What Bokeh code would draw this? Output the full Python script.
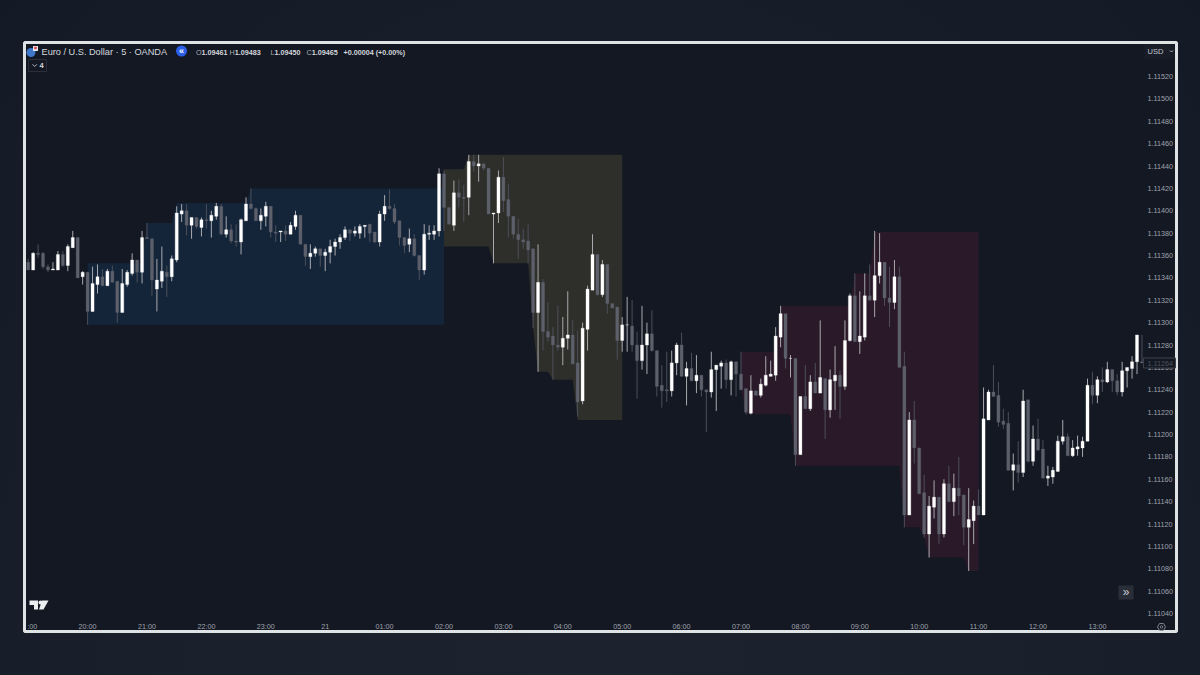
from bokeh.plotting import figure
from bokeh.embed import file_html
from bokeh.resources import INLINE
from bokeh.models import ColumnDataSource, Range1d, LinearAxis, FixedTicker, Label, NumeralTickFormatter

# Prices are stored as points (1e-5) above 1.10000, one entry per 5-minute bar.
BASE = 1.10
opens = [1354,1347,1362,1362,1350,1347,1347,1361,1351,1367,
 1376,1341,1345,1310,1334,1341,1333,1346,1337,1309,
 1334,1344,1356,1345,1376,1375,1330,1337,1345,1341,
 1356,1397,1400,1387,1394,1385,1392,1391,1395,1404,
 1379,1383,1373,1372,1391,1406,1402,1391,1395,1404,
 1381,1381,1382,1379,1386,1396,1370,1359,1362,
 1366,1360,1363,1368,1372,1376,1383,1380,1380,1386,
 1388,1381,1372,1397,1404,1402,1391,1376,1370,1375,
 1360,1347,1379,1379,1382,1433,1403,1387,1416,1412,
 1412,1444,1440,1442,1438,1397,1398,1430,1410,1395,
 1379,1374,1373,1366,1309,1336,1292,1288,1280,1278,
 1286,1289,1264,1230,1294,1329,1361,1325,1352,1317,
 1314,1284,1298,1297,1280,1266,1280,1290,1275,1244,
 1240,1239,1264,1280,1252,1259,1248,1253,1240,1238,
 1258,1261,1264,1249,1265,1254,1241,1219,1239,1235,
 1244,1252,1253,1287,1308,1268,1268,1182,1234,1223,
 1247,1237,1250,1222,1248,1253,1243,1284,1324,1283,
 1287,1324,1320,1342,1354,1322,1318,1341,1261,1128,
 1213,1188,1148,1111,1135,1144,1111,1156,1140,1152,
 1146,1117,1123,1136,1128,1213,1238,1235,1212,1210,
 1168,1173,1166,1231,1176,1196,1187,1161,1162,1167,
 1194,1198,1181,1187,1188,1194,1244,1235,1249,1247,
 1258,1248,1238,1257,1259,1265,1265]
closes = [1347,1362,1361,1350,1347,1348,1361,1351,1368,1376,
 1340,1345,1310,1335,1341,1333,1346,1336,1309,1335,
 1345,1356,1345,1376,1375,1338,1338,1346,1341,1357,
 1398,1400,1387,1394,1386,1392,1391,1396,1404,1379,
 1383,1373,1372,1392,1406,1402,1391,1396,1404,1381,
 1380,1382,1379,1387,1396,1370,1359,1362,1366,
 1360,1363,1368,1372,1376,1383,1380,1382,1386,1387,
 1380,1372,1397,1404,1402,1390,1376,1369,1375,1360,
 1347,1379,1380,1382,1433,1403,1388,1416,1412,1411,
 1444,1440,1442,1438,1397,1398,1430,1409,1395,1379,
 1374,1372,1365,1309,1336,1292,1287,1280,1278,1286,
 1289,1263,1229,1295,1330,1361,1325,1352,1317,1313,
 1284,1298,1298,1280,1266,1280,1290,1275,1243,1239,
 1239,1264,1280,1252,1259,1248,1253,1240,1238,1258,
 1262,1264,1249,1265,1254,1240,1220,1239,1235,1245,
 1253,1254,1288,1308,1268,1268,1182,1234,1223,1247,
 1237,1251,1222,1249,1253,1243,1284,1324,1283,1288,
 1324,1320,1342,1354,1322,1318,1341,1260,1128,1213,
 1188,1147,1111,1136,1144,1111,1156,1140,1152,1145,
 1117,1124,1136,1128,1214,1238,1234,1211,1209,1168,
 1173,1166,1230,1176,1196,1186,1161,1163,1168,1194,
 1198,1181,1188,1189,1194,1244,1235,1249,1247,1258,
 1248,1238,1257,1260,1265,1289,1264]
highs = [1357,1363,1370,1363,1352,1354,1364,1364,1370,1382,
 1376,1346,1345,1350,1352,1348,1348,1351,1337,1348,
 1347,1362,1356,1382,1389,1375,1357,1368,1351,1360,
 1404,1406,1406,1394,1394,1394,1406,1400,1407,1406,
 1395,1388,1388,1393,1412,1420,1403,1402,1408,1404,
 1387,1382,1387,1390,1400,1396,1370,1370,1368,
 1366,1366,1374,1375,1379,1386,1383,1386,1388,1387,
 1388,1381,1400,1414,1419,1406,1391,1376,1384,1379,
 1360,1388,1387,1387,1438,1436,1403,1427,1428,1423,
 1450,1450,1450,1442,1438,1398,1436,1448,1424,1395,
 1393,1384,1388,1366,1370,1339,1318,1296,1315,1305,
 1328,1302,1293,1300,1333,1379,1361,1356,1352,1317,
 1314,1305,1323,1320,1292,1315,1300,1311,1275,1262,
 1274,1275,1282,1291,1265,1273,1271,1253,1240,1274,
 1262,1266,1267,1266,1265,1274,1241,1253,1239,1250,
 1270,1266,1296,1315,1308,1271,1268,1234,1262,1253,
 1264,1302,1250,1258,1279,1257,1302,1326,1344,1328,
 1344,1352,1382,1380,1354,1350,1356,1350,1274,1220,
 1230,1188,1164,1145,1159,1144,1160,1172,1165,1180,
 1146,1152,1141,1151,1242,1240,1262,1247,1223,1220,
 1183,1194,1240,1231,1208,1214,1195,1172,1171,1199,
 1213,1201,1195,1199,1198,1250,1256,1252,1260,1265,
 1258,1254,1265,1260,1270,1289,1289]
lows = [1347,1347,1358,1348,1345,1347,1347,1350,1346,1367,
 1340,1334,1298,1310,1326,1333,1333,1336,1300,1309,
 1332,1342,1336,1335,1375,1324,1310,1331,1323,1337,
 1354,1390,1378,1375,1384,1377,1384,1376,1392,1379,
 1376,1371,1368,1361,1391,1401,1391,1383,1386,1376,
 1372,1372,1373,1379,1383,1370,1351,1348,1359,
 1350,1346,1353,1360,1366,1374,1373,1377,1375,1376,
 1372,1371,1368,1391,1401,1388,1369,1362,1363,1359,
 1338,1343,1374,1374,1377,1382,1388,1382,1403,1390,
 1396,1435,1426,1436,1397,1353,1389,1399,1376,1375,
 1357,1366,1353,1295,1256,1275,1283,1249,1275,1262,
 1276,1263,1216,1227,1275,1329,1324,1323,1308,1313,
 1267,1274,1274,1274,1232,1258,1254,1274,1234,1224,
 1229,1234,1253,1252,1226,1248,1237,1234,1202,1233,
 1221,1241,1241,1235,1234,1240,1218,1218,1235,1233,
 1243,1252,1248,1278,1259,1251,1172,1182,1223,1221,
 1237,1237,1196,1215,1222,1214,1240,1283,1283,1272,
 1284,1320,1305,1335,1315,1296,1312,1260,1117,1128,
 1174,1147,1108,1090,1125,1102,1108,1140,1127,1128,
 1101,1078,1102,1128,1128,1213,1234,1207,1205,1168,
 1150,1157,1162,1175,1172,1186,1161,1154,1156,1167,
 1191,1181,1180,1181,1180,1194,1227,1228,1238,1246,
 1238,1235,1234,1242,1250,1254,1264]
assert len(opens) == len(closes) == len(highs) == len(lows) == 226

blue_bars = [13,24,25,30,31,45,46,85]
blue_top = [1353,1353,1389,1389,1407,1407,1420,1420]
blue_bot = [1298]*8
olive_bars = [85,89,90,94,95,101,102,103,104,106,107,111,112,121]
olive_top = [1437,1437]+[1450]*12
olive_bot = [1368,1368,1368,1368,1353,1353,1353,1295,1256,1256,1249,1249,1213,1213]
maroon_bars = [145,146,152,153,155,156,167,168,171,172,177,178,181,182,183,190,191,193]
maroon_top = [1274,1274,1274,1315,1315,1315,1315,1344,1344]+[1381]*9
maroon_bot = [1240,1218,1218,1218,1218,1172,1172,1172,1172,1172,1172,1117,1117,1108,1090,1090,1078,1078]

hour_bars = [1.8,13,25,37,49,61,73,85,97,109,121,133,145,157,169,181,193,205,217]
hour_labels = [":00","20:00","21:00","22:00","23:00","21","01:00","02:00","03:00","04:00","05:00",
               "06:00","07:00","08:00","09:00","10:00","11:00","12:00","13:00"]
price_ticks = [1040+20*i for i in range(25)]

def pr(pts):
    return [BASE + v*1e-5 for v in pts]
def k_of(X):
    return 1 + (X-27.7)/4.95
def price_of(Y):
    return BASE + (1520-(Y-76)/1.11875)*1e-5

BG = "#131823"
p = figure(width=1200, height=675, output_backend="svg", toolbar_location=None,
           x_axis_location=None, y_axis_location=None,
           x_range=Range1d(k_of(24), k_of(1176)), y_range=Range1d(price_of(631), price_of(42)),
           min_border_left=24, min_border_right=24, min_border_top=42, min_border_bottom=44,
           background_fill_color=BG, border_fill_color=None)
p.grid.visible = False
p.outline_line_color = "#e0e3e6"
p.outline_line_width = 3

p.varea(blue_bars, pr(blue_bot), pr(blue_top), fill_color="#14253a")
p.varea(olive_bars, pr(olive_bot), pr(olive_top), fill_color="#2e2f2a")
p.varea(maroon_bars, pr(maroon_bot), pr(maroon_top), fill_color="#2a1929")

bars = list(range(1, len(opens)+1))
src = ColumnDataSource(dict(
    x=bars, o=pr(opens), c=pr(closes), h=pr(highs), l=pr(lows),
    top=pr([max(a, b) for a, b in zip(opens, closes)]),
    bot=pr([min(a, b) for a, b in zip(opens, closes)]),
    body=["#ffffff" if c >= o else "#5d606b" for o, c in zip(opens, closes)],
    wick=["#a8a9ae" if c >= o else "#4c4f5a" for o, c in zip(opens, closes)],
))
p.segment("x", "h", "x", "l", source=src, line_color="wick", line_width=1)
p.vbar("x", 0.62, "top", "bot", source=src, fill_color="body", line_color="body", line_width=0.3)

# Axes sit inside the frame, as on the original chart.
xax = LinearAxis(fixed_location=price_of(620))
xax.ticker = FixedTicker(ticks=hour_bars)
xax.major_label_overrides = dict(zip(hour_bars, hour_labels))
yax = LinearAxis(fixed_location=k_of(1144))
yax.ticker = FixedTicker(ticks=[round(v, 5) for v in pr(price_ticks)])
yax.formatter = NumeralTickFormatter(format="0.00000")
for ax, side in ((xax, "below"), (yax, "right")):
    ax.axis_line_color = None
    ax.major_tick_line_color = None
    ax.minor_tick_line_color = None
    ax.major_tick_out = 0
    ax.major_tick_in = 0
    ax.major_label_text_color = "#a0a3ac"
    ax.major_label_text_font = "Liberation Sans"
    ax.major_label_text_font_size = "7.2px"
    ax.major_label_standoff = 3 if side == "right" else 1
    p.add_layout(ax, side)

def txt(X, Y, s, color="#d6d9de", size="7.5px", style="normal", align="left"):
    p.add_layout(Label(x=k_of(X), y=price_of(Y), text=s, text_color=color, text_font="Liberation Sans",
                       text_font_size=size, text_font_style=style, text_baseline="middle", text_align=align))

def pts(xs, ys):
    return [k_of(v) for v in xs], [price_of(v) for v in ys]

# Header
x, y = pts([30.5], [52]); p.scatter(x, y, size=9, fill_color="#3f77c9", line_color=None)
x, y = pts([35], [48]); p.scatter(x, y, size=5, marker="square", fill_color="#e8e8ee", line_color=None)
x, y = pts([35], [47.5]); p.scatter(x, y, size=2.5, marker="square", fill_color="#d8404a", line_color=None)
txt(41, 51.5, "Euro / U.S. Dollar · 5 · OANDA", size="9.2px")
x, y = pts([181], [50.5]); p.scatter(x, y, size=11, fill_color="#2b5fe8", line_color=None)
txt(181, 50.5, "«", color="#ffffff", size="9px", style="bold", align="center")
for X, off, lab, val in ((195.5, 5.6, "O", "1.09461"), (229, 5.2, "H", "1.09483"),
                         (270, 4, "L", "1.09450"), (306, 5.2, "C", "1.09465")):
    txt(X, 51.5, lab, color="#a9acb4", size="7.2px")
    txt(X+off, 51.5, val, color="#d4d6db", size="7.2px", style="bold")
txt(343, 51.5, "+0.00004 (+0.00%)", color="#d4d6db", size="7.2px", style="bold")

# Collapsed indicators button
x, y = pts([28, 46], [71, 59])
p.quad(left=x[0], right=x[1], bottom=y[0], top=y[1], fill_color=None, line_color="#2a2f3b", line_width=1)
x, y = pts([32, 34.2, 36.4], [63.8, 66, 63.8]); p.line(x, y, line_color="#c8cbd0", line_width=0.9)
txt(39, 65, "4", size="7.5px", style="bold")

# Currency box
x, y = pts([1144, 1174], [58, 44])
p.quad(left=x[0], right=x[1], bottom=y[0], top=y[1], fill_color="#181d28", line_color=None)
txt(1147, 51, "USD", color="#c4c7cd", size="7.5px")
x, y = pts([1169.5, 1171, 1172.5], [50, 51.5, 50]); p.line(x, y, line_color="#c4c7cd", line_width=0.9)

# Last-price tag
x, y = pts([1143, 1175], [367.5, 357.5])
p.quad(left=x[0], right=x[1], bottom=y[0], top=y[1], fill_color=BG, line_color="#3d404a", line_width=1, level="overlay")
p.add_layout(Label(x=k_of(1147), y=price_of(362.5), text="1.11264", text_color="#50535d",
                   text_font="Liberation Sans", text_font_size="7.2px", text_baseline="middle", level="overlay"))

# TradingView logo
px = [[29, 37.5, 37.5, 33.5, 33.5, 29], [41.5, 48, 43, 38.5]]
py = [[600, 600, 609, 609, 604.5, 604.5], [600, 600, 609, 609]]
p.patches([[k_of(v) for v in r] for r in px], [[price_of(v) for v in r] for r in py],
          fill_color="#eceef0", line_color=None)
x, y = pts([40], [602]); p.scatter(x, y, size=4, fill_color="#eceef0", line_color=None)

# Scroll button
x, y = pts([1118, 1133], [599, 585])
p.quad(left=x[0], right=x[1], bottom=y[0], top=y[1], fill_color="#2a2e39", line_color=None)
txt(1125.5, 591, "»", color="#c8cbd2", size="12px", align="center")

# Settings gear
x, y = pts([1161], [626.5])
p.scatter(x, y, marker="hex", size=8, fill_color=None, line_color="#8b8f98", line_width=0.9)
p.scatter(x, y, size=2.5, fill_color=None, line_color="#8b8f98", line_width=0.8)

html = file_html(p, INLINE)
html = html.replace("</head>", "<style>html,body{background:radial-gradient(ellipse at 50% 100%,#1c232f 0%,#191f2b 55%,#141a25 100%) fixed;overflow:hidden;}</style></head>", 1)
open("out.html", "w").write(html)
